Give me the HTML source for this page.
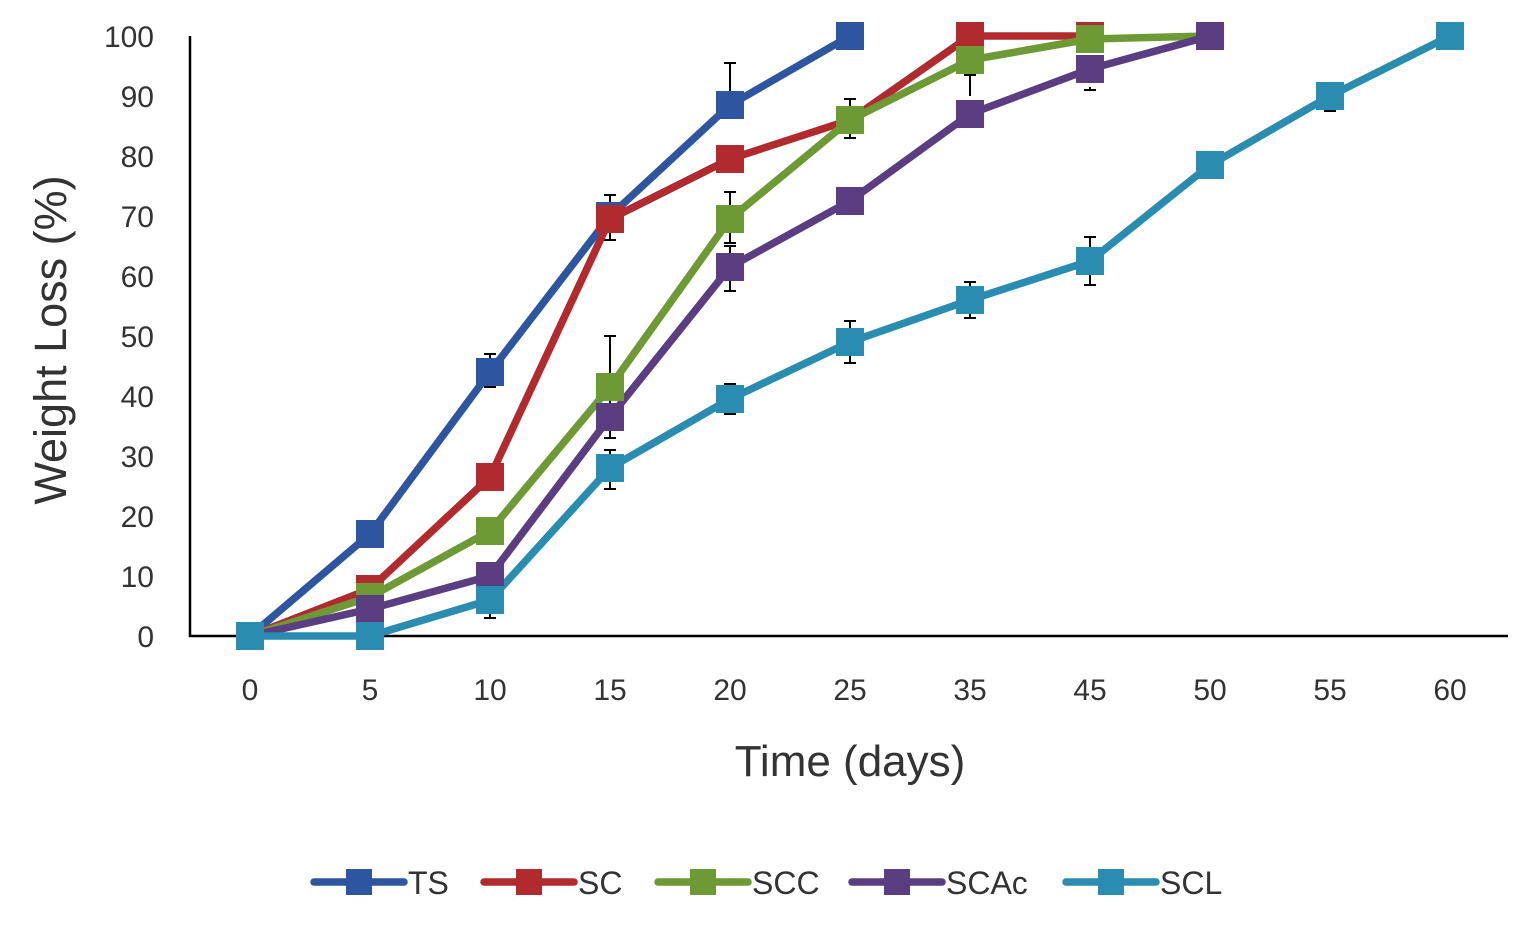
<!DOCTYPE html>
<html><head><style>
body{margin:0;background:#fff;}
svg text{font-family:"Liberation Sans",sans-serif;fill:#333;}
</style></head><body>
<svg width="1536" height="923" xmlns="http://www.w3.org/2000/svg">
<rect width="1536" height="923" fill="#fff"/>
<g font-size="30" text-anchor="end">
<text x="154" y="647">0</text><text x="154" y="587">10</text><text x="154" y="527">20</text><text x="154" y="467">30</text><text x="154" y="407">40</text><text x="154" y="347">50</text><text x="154" y="287">60</text><text x="154" y="227">70</text><text x="154" y="167">80</text><text x="154" y="107">90</text><text x="154" y="47">100</text>
</g>
<g font-size="30" text-anchor="middle">
<text x="250" y="700">0</text><text x="370" y="700">5</text><text x="490" y="700">10</text><text x="610" y="700">15</text><text x="730" y="700">20</text><text x="850" y="700">25</text><text x="970" y="700">35</text><text x="1090" y="700">45</text><text x="1210" y="700">50</text><text x="1330" y="700">55</text><text x="1450" y="700">60</text>
</g>
<text x="850" y="776" font-size="44" text-anchor="middle">Time (days)</text>
<text transform="translate(66,340) rotate(-90)" font-size="45" text-anchor="middle">Weight Loss (%)</text>
<path d="M190 36V636H1508" stroke="#000" stroke-width="2.5" fill="none"/>
<g stroke="#000" stroke-width="2" fill="none">
<path d="M490 354V387M484 354H496M484 387H496"/>
<path d="M610 195V240M604 195H616M604 240H616"/>
<path d="M730 63V105M724 63H736"/>
<path d="M610 336V438M604 336H616M604 438H616"/>
<path d="M850 99V138M844 99H856M844 138H856"/>
<path d="M730 192V243M724 192H736M724 243H736"/>
<path d="M730 246V291M724 246H736M724 291H736"/>
<path d="M970 75V96M964 75H976"/>
<path d="M1090 87V90M1084 90H1096"/>
<path d="M490 600V618M484 618H496"/>
<path d="M610 450V489M604 450H616M604 489H616"/>
<path d="M730 384V414M724 384H736M724 414H736"/>
<path d="M850 321V363M844 321H856M844 363H856"/>
<path d="M970 282V318M964 282H976M964 318H976"/>
<path d="M1090 237V285M1084 237H1096M1084 285H1096"/>
<path d="M1330 84V111M1324 84H1336M1324 111H1336"/>
</g>
<defs>
<rect id="m" x="-14" y="-14" width="28" height="28"/>
</defs>
<g fill="none" stroke-width="7.5" stroke-linejoin="round" stroke-linecap="round">
<polyline stroke="#2E56A0" points="250,636 370,534 490,372 610,216 730,105 850,36"/>
<polyline stroke="#B02A2E" points="250,636 370,589 490,477 610,219 730,159 850,120 970,36 1090,36"/>
<polyline stroke="#6E9A35" points="250,636 370,597 490,531 610,387 730,219 850,120 970,60 1090,39 1210,36"/>
<polyline stroke="#5B3E82" points="250,636 370,609 490,576 610,417 730,267 850,201 970,114 1090,69 1210,36"/>
<polyline stroke="#2A8CB0" points="250,636 370,636 490,600 610,468 730,399 850,342 970,300 1090,261 1210,165 1330,96 1450,36"/>
</g>
<g fill="#2E56A0"><use href="#m" x="250" y="636"/><use href="#m" x="370" y="534"/><use href="#m" x="490" y="372"/><use href="#m" x="610" y="216"/><use href="#m" x="730" y="105"/><use href="#m" x="850" y="36"/></g>
<g fill="#B02A2E"><use href="#m" x="250" y="636"/><use href="#m" x="370" y="589"/><use href="#m" x="490" y="477"/><use href="#m" x="610" y="219"/><use href="#m" x="730" y="159"/><use href="#m" x="850" y="120"/><use href="#m" x="970" y="36"/><use href="#m" x="1090" y="36"/></g>
<g fill="#6E9A35"><use href="#m" x="250" y="636"/><use href="#m" x="370" y="597"/><use href="#m" x="490" y="531"/><use href="#m" x="610" y="387"/><use href="#m" x="730" y="219"/><use href="#m" x="850" y="120"/><use href="#m" x="970" y="60"/><use href="#m" x="1090" y="39"/><use href="#m" x="1210" y="36"/></g>
<g fill="#5B3E82"><use href="#m" x="250" y="636"/><use href="#m" x="370" y="609"/><use href="#m" x="490" y="576"/><use href="#m" x="610" y="417"/><use href="#m" x="730" y="267"/><use href="#m" x="850" y="201"/><use href="#m" x="970" y="114"/><use href="#m" x="1090" y="69"/><use href="#m" x="1210" y="36"/></g>
<g fill="#2A8CB0"><use href="#m" x="250" y="636"/><use href="#m" x="370" y="636"/><use href="#m" x="490" y="600"/><use href="#m" x="610" y="468"/><use href="#m" x="730" y="399"/><use href="#m" x="850" y="342"/><use href="#m" x="970" y="300"/><use href="#m" x="1090" y="261"/><use href="#m" x="1210" y="165"/><use href="#m" x="1330" y="96"/><use href="#m" x="1450" y="36"/></g>
<g stroke-width="7.5" stroke-linecap="round">
<line x1="314" y1="882" x2="404" y2="882" stroke="#2E56A0"/><rect x="346" y="869" width="26" height="26" fill="#2E56A0"/>
<line x1="484" y1="882" x2="574" y2="882" stroke="#B02A2E"/><rect x="516" y="869" width="26" height="26" fill="#B02A2E"/>
<line x1="658" y1="882" x2="748" y2="882" stroke="#6E9A35"/><rect x="690" y="869" width="26" height="26" fill="#6E9A35"/>
<line x1="852" y1="882" x2="942" y2="882" stroke="#5B3E82"/><rect x="884" y="869" width="26" height="26" fill="#5B3E82"/>
<line x1="1066" y1="882" x2="1156" y2="882" stroke="#2A8CB0"/><rect x="1098" y="869" width="26" height="26" fill="#2A8CB0"/>
</g>
<g font-size="32">
<text x="408" y="894">TS</text><text x="578" y="894">SC</text><text x="752" y="894">SCC</text><text x="946" y="894">SCAc</text><text x="1160" y="894">SCL</text>
</g>
</svg>
</body></html>
